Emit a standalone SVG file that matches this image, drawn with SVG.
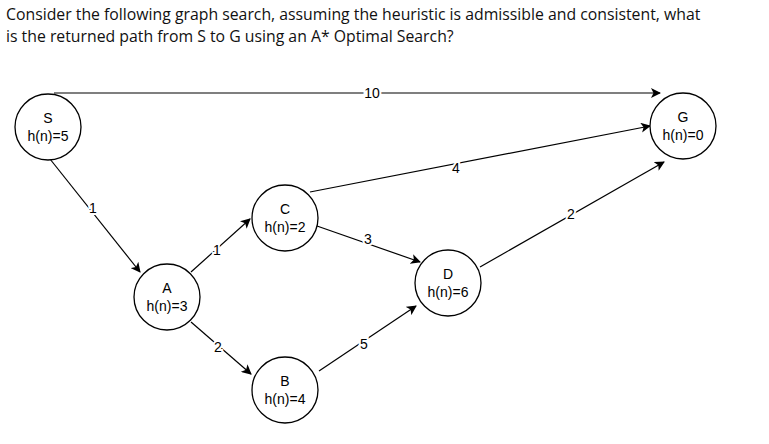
<svg xmlns="http://www.w3.org/2000/svg" width="769" height="444" viewBox="0 0 769 444">
<style>
.t{font-family:"Open Sans","Liberation Sans",sans-serif;font-size:15.8px;fill:#111}
.n circle{fill:#fff;stroke:#000;stroke-width:1.3}
.n text,.l{font-family:"Liberation Sans",Arial,sans-serif;font-size:14px;text-anchor:middle;fill:#000}
.e line,.e path{stroke:#000;stroke-width:1.2;fill:none}
.l{stroke:#fff;stroke-width:4;paint-order:stroke}
</style>
<defs><marker id="ar" viewBox="0 0 10 10" refX="9" refY="5" markerWidth="10" markerHeight="10" markerUnits="userSpaceOnUse" orient="auto"><path d="M0,0L10,5L0,10L2.5,5z" fill="#000"/></marker></defs>
<rect width="769" height="444" fill="#fff"/>
<text class="t" x="6" y="20">Consider the following graph search, assuming the heuristic is admissible and consistent, what</text>
<text class="t" x="6" y="42">is the returned path from S to G using an A* Optimal Search?</text>
<g class="e">
<path d="M54,93 L660,93" marker-end="url(#ar)"/>
<line x1="50" y1="159" x2="140" y2="272" marker-end="url(#ar)"/>
<line x1="191" y1="272" x2="250" y2="219" marker-end="url(#ar)"/>
<line x1="191" y1="322" x2="251" y2="374" marker-end="url(#ar)"/>
<line x1="317" y1="226" x2="420" y2="262" marker-end="url(#ar)"/>
<line x1="310" y1="192" x2="650" y2="126" marker-end="url(#ar)"/>
<line x1="319" y1="371" x2="416" y2="306" marker-end="url(#ar)"/>
<line x1="480" y1="267" x2="664" y2="162" marker-end="url(#ar)"/>
</g>
<g>
<text class="l" x="372" y="98">10</text>
<text class="l" x="93" y="213">1</text>
<text class="l" x="217" y="255">1</text>
<text class="l" x="218" y="352">2</text>
<text class="l" x="368" y="244">3</text>
<text class="l" x="456" y="173">4</text>
<text class="l" x="364" y="349">5</text>
<text class="l" x="571" y="219">2</text>
</g>
<g id="S" class="n"><circle cx="48" cy="127" r="33"/><text x="48" y="123">S</text><text x="48" y="141">h(n)=5</text></g>
<g id="G" class="n"><circle cx="683" cy="126" r="33"/><text x="683" y="122">G</text><text x="683" y="140">h(n)=0</text></g>
<g id="C" class="n"><circle cx="285" cy="218" r="33"/><text x="285" y="214">C</text><text x="285" y="232">h(n)=2</text></g>
<g id="A" class="n"><circle cx="167" cy="297" r="33"/><text x="167" y="293">A</text><text x="167" y="311">h(n)=3</text></g>
<g id="D" class="n"><circle cx="448" cy="283" r="33"/><text x="448" y="279">D</text><text x="448" y="297">h(n)=6</text></g>
<g id="B" class="n"><circle cx="285" cy="390" r="33"/><text x="285" y="386">B</text><text x="285" y="404">h(n)=4</text></g>
</svg>
